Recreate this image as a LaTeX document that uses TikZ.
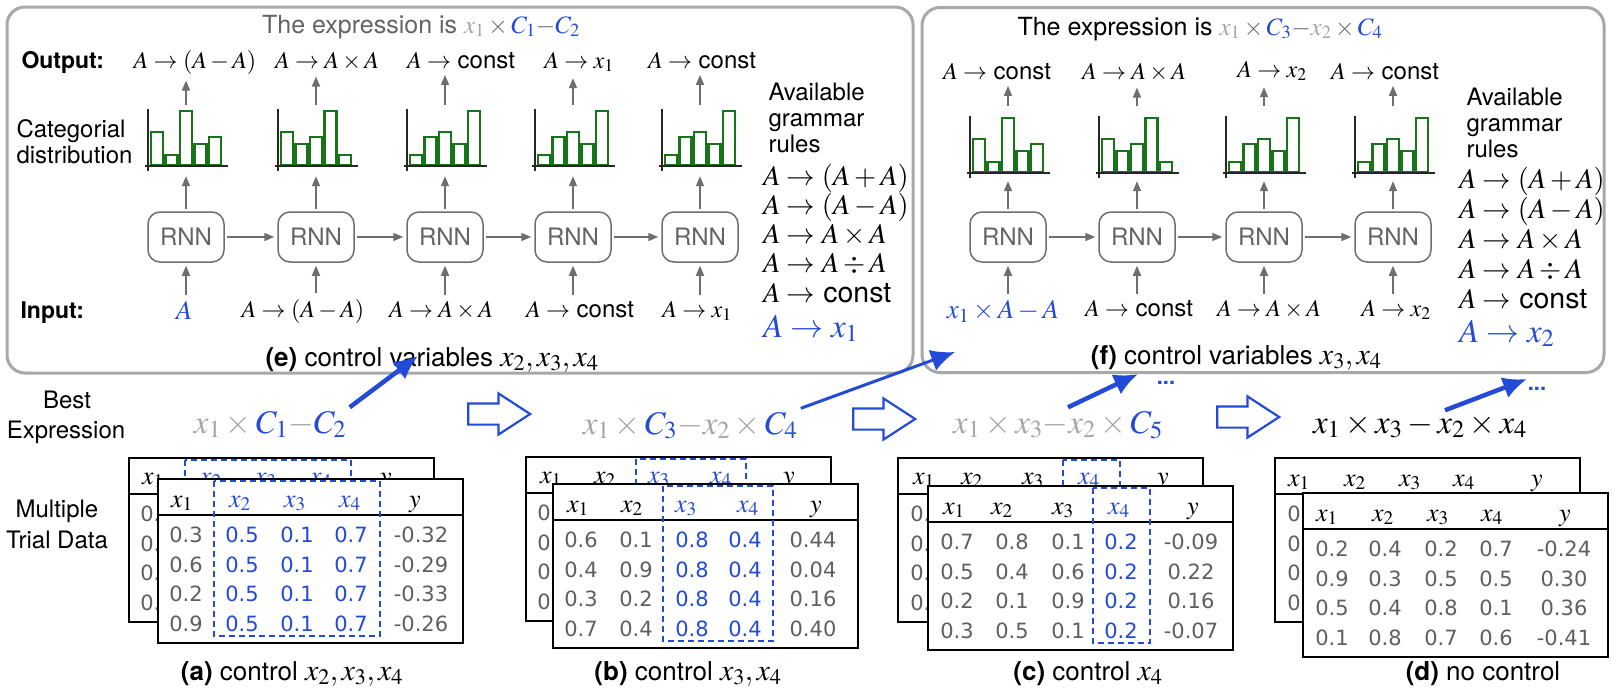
\documentclass[tikz,border=0pt]{standalone}
\usepackage{mathptmx}
\usepackage[no-math]{fontspec}
\setmainfont{TeX Gyre Heros}
\newfontfamily\numfont{DejaVu Sans}
\usetikzlibrary{arrows.meta,shapes.arrows}
\definecolor{cblue}{RGB}{35,75,215}
\definecolor{panelgray}{RGB}{168,168,168}
\definecolor{boxgray}{RGB}{110,110,110}
\definecolor{txtgray}{RGB}{100,100,100}
\definecolor{numgray}{RGB}{95,95,95}
\definecolor{exgray}{RGB}{165,165,165}
\definecolor{bargreen}{RGB}{25,115,25}
\begin{document}
\begin{tikzpicture}[x=1pt,y=-1pt,
    panel/.style={draw=panelgray,line width=3pt,rounded corners=18pt},
    title/.style={anchor=base,font=\fontsize{25}{30}\selectfont},
    lbl/.style={anchor=base,font=\fontsize{24}{28}\selectfont},
    side/.style={anchor=base west,font=\fontsize{24}{28}\selectfont},
    bside/.style={anchor=base west,font=\fontsize{23}{28}\selectfont\bfseries},
    gram/.style={anchor=base west,inner sep=0pt,font=\fontsize{28.5}{33}\selectfont},
    rnn/.style={draw=boxgray,line width=1.5pt,rounded corners=12pt,minimum width=76pt,minimum height=50pt,text=txtgray,font=\fontsize{24}{28}\selectfont},
    garrow/.style={draw=boxgray,line width=1.6pt,-{Triangle[length=10pt,width=8pt]},shorten >=3pt,shorten <=2pt},
    hist/.style={minimum width=82pt,inner sep=0pt},
    bar/.style={draw=bargreen,line width=2.2pt,fill=white},
    axis/.style={draw=black!85,line width=1.4pt},
    tab/.style={draw,line width=1.8pt,fill=white,anchor=north west,minimum width=305pt,minimum height=164pt,inner sep=0pt},
    hrule/.style={line width=2pt},
    hd/.style={anchor=base,font=\fontsize{26}{30}\selectfont},
    num/.style={anchor=base,text=numgray,font=\fontsize{21}{25}\numfont},
    dbox/.style={draw=cblue,line width=2.5pt,dash pattern=on 6pt off 4pt},
    expr/.style={anchor=base,text=exgray,font=\fontsize{33}{38}\selectfont},
    capt/.style={anchor=base,font=\fontsize{26}{30}\selectfont},
    hollow/.style={single arrow,draw=cblue,line width=2.2pt,fill=white,minimum height=62pt,single arrow head extend=10pt,single arrow tip angle=66,inner sep=0pt},
    sketch/.style={draw=cblue,line width=4.5pt,-{Latex[length=24pt,width=22pt]}},
    dots/.style={text=cblue,font=\fontsize{22}{26}\selectfont\bfseries}
  ]
  \fill[white] (0,0) rectangle (1612,691);
  \useasboundingbox (0,0) rectangle (1612,691);

  % panel (e)
  \node at (460,190) [panel,minimum width=906pt,minimum height=366pt] (pe) {};
  \node at (421,33) [title] (te) {{\color{txtgray}The expression is} ${\color{exgray}x_1}\mathbin{\color{txtgray}\times}{\color{cblue}C_1}{\color{txtgray}-}{\color{cblue}C_2}$};
  \node at (18,68) [bside] (lo) {Output:};
  \node at (13,137) [side] (lc1) {Categorial};
  \node at (13,163) [side] (lc2) {distribution};
  \node at (17,318) [bside] (li) {Input:};

  \node at (195,68) [lbl] (o1) {$A \rightarrow (A-A)$};
  \node at (327,68) [lbl] (o2) {$A \rightarrow A\times A$};
  \node at (461,68) [lbl] (o3) {$A \rightarrow$ const};
  \node at (579,68) [lbl] (o4) {$A \rightarrow x_1$};
  \node at (702,68) [lbl] (o5) {$A \rightarrow$ const};

  \node at (186,140) [hist,minimum height=66pt] (h1) {};
  \node at (316,140) [hist,minimum height=66pt] (h2) {};
  \node at (445,140) [hist,minimum height=66pt] (h3) {};
  \node at (573,140) [hist,minimum height=66pt] (h4) {};
  \node at (700,140) [hist,minimum height=66pt] (h5) {};

  \node at (700,237) [rnn] (r5) {RNN};
  \node at (573,237) [rnn] (r4) {RNN}
    edge[garrow] (r5);
  \node at (445,237) [rnn] (r3) {RNN}
    edge[garrow] (r4);
  \node at (316,237) [rnn] (r2) {RNN}
    edge[garrow] (r3);
  \node at (186,237) [rnn] (r1) {RNN}
    edge[garrow] (r2);

  \node at (184,319) [lbl,text=cblue,font=\fontsize{27}{30}\selectfont] (i1) {$A$};
  \node at (303,317) [lbl] (i2) {$A \rightarrow (A-A)$};
  \node at (441,317) [lbl] (i3) {$A \rightarrow A\times A$};
  \node at (580,317) [lbl] (i4) {$A \rightarrow$ const};
  \node at (697,317) [lbl] (i5) {$A \rightarrow x_1$};

  \draw[garrow] (r1 |- i1.north) -- (r1);
  \draw[garrow] (r2 |- i2.north) -- (r2);
  \draw[garrow] (r3 |- i3.north) -- (r3);
  \draw[garrow] (r4 |- i4.north) -- (r4);
  \draw[garrow] (r5 |- i5.north) -- (r5);
  \draw[garrow] (r1) -- (h1);
  \draw[garrow] (r2) -- (h2);
  \draw[garrow] (r3) -- (h3);
  \draw[garrow] (r4) -- (h4);
  \draw[garrow] (r5) -- (h5);
  \draw[garrow] (h1) -- (h1 |- o1.south);
  \draw[garrow] (h2) -- (h2 |- o2.south);
  \draw[garrow] (h3) -- (h3 |- o3.south);
  \draw[garrow] (h4) -- (h4 |- o4.south);
  \draw[garrow] (h5) -- (h5 |- o5.south);

  \node at (765,100) [side] (av1) {Available};
  \node at (765,126) [side] (av2) {grammar};
  \node at (765,152) [side] (av3) {rules};
  \node at (763,185) [gram] (re1) {$A \rightarrow (A+A)$};
  \node at (763,214) [gram] (re2) {$A \rightarrow (A-A)$};
  \node at (763,243) [gram] (re3) {$A \rightarrow A\times A$};
  \node at (763,272) [gram] (re4) {$A \rightarrow A\div A$};
  \node at (763,302) [gram] (re5) {$A \rightarrow$ const};
  \node at (763,337) [gram,text=cblue,font=\fontsize{33}{38}\selectfont] (re6) {$A \rightarrow x_1$};
  \node at (262,366) [capt,anchor=base west] (ce) {\textbf{(e)} control variables {\fontsize{30}{34}\selectfont$x_2, x_3, x_4$}};

  % panel (f)
  \node at (1263,190) [panel,minimum width=682pt,minimum height=365pt] (pf) {};
  \node at (1200,35) [title] (tf) {The expression is ${\color{exgray}x_1}\mathbin{\color{txtgray}\times}{\color{cblue}C_3}{\color{txtgray}-}{\color{exgray}x_2}\mathbin{\color{txtgray}\times}{\color{cblue}C_4}$};

  \node at (997,79) [lbl] (p1) {$A \rightarrow$ const};
  \node at (1134,79) [lbl] (p2) {$A \rightarrow A\times A$};
  \node at (1272,77) [lbl] (p3) {$A \rightarrow x_2$};
  \node at (1385,79) [lbl] (p4) {$A \rightarrow$ const};

  \node at (1008,143) [hist,minimum height=70pt] (g1) {};
  \node at (1137,143) [hist,minimum height=70pt] (g2) {};
  \node at (1264,143) [hist,minimum height=70pt] (g3) {};
  \node at (1393,143) [hist,minimum height=70pt] (g4) {};

  \node at (1393,237) [rnn] (s4) {RNN};
  \node at (1264,237) [rnn] (s3) {RNN}
    edge[garrow] (s4);
  \node at (1137,237) [rnn] (s2) {RNN}
    edge[garrow] (s3);
  \node at (1008,237) [rnn] (s1) {RNN}
    edge[garrow] (s2);

  \node at (1003,318) [lbl,text=cblue,font=\fontsize{27}{30}\selectfont] (j1) {$x_1\times A-A$};
  \node at (1139,316) [lbl] (j2) {$A \rightarrow$ const};
  \node at (1269,316) [lbl] (j3) {$A \rightarrow A\times A$};
  \node at (1396,316) [lbl] (j4) {$A \rightarrow x_2$};

  \draw[garrow] (s1 |- j1.north) -- (s1);
  \draw[garrow] (s2 |- j2.north) -- (s2);
  \draw[garrow] (s3 |- j3.north) -- (s3);
  \draw[garrow] (s4 |- j4.north) -- (s4);
  \draw[garrow] (s1) -- (g1);
  \draw[garrow] (s2) -- (g2);
  \draw[garrow] (s3) -- (g3);
  \draw[garrow] (s4) -- (g4);
  \draw[garrow] (g1) -- (g1 |- p1.south);
  \draw[garrow] (g2) -- (g2 |- p2.south);
  \draw[garrow] (g3) -- (g3 |- p3.south);
  \draw[garrow] (g4) -- (g4 |- p4.south);

  \node at (1463,105) [side] (bf1) {Available};
  \node at (1463,131) [side] (bf2) {grammar};
  \node at (1463,157) [side] (bf3) {rules};
  \node at (1459,188) [gram] (rf1) {$A \rightarrow (A+A)$};
  \node at (1459,218) [gram] (rf2) {$A \rightarrow (A-A)$};
  \node at (1459,248) [gram] (rf3) {$A \rightarrow A\times A$};
  \node at (1459,278) [gram] (rf4) {$A \rightarrow A\div A$};
  \node at (1459,308) [gram] (rf5) {$A \rightarrow$ const};
  \node at (1459,342) [gram,text=cblue,font=\fontsize{33}{38}\selectfont] (rf6) {$A \rightarrow x_2$};
  \node at (1385,364) [capt,anchor=base east] (cf) {\textbf{(f)} control variables {\fontsize{30}{34}\selectfont$x_3, x_4$}};

  % histograms
  \foreach \x/\y/\ha/\hb/\hc/\hd/\he in {148/165/33/10/54/21/28, 278/165/33/21/28/54/10,
      407/165/10/28/33/21/54, 535/165/10/28/33/21/54, 662/165/10/28/33/21/54,
      970/172/33/10/54/21/28, 1099/172/33/21/28/54/10, 1226/172/10/28/33/21/54, 1355/172/10/28/33/21/54}
  {
    \begin{scope}[shift={(\x,\y)}]
      \draw[bar] (3,0) rectangle (15,-\ha) (17.5,0) rectangle (29.5,-\hb) (32,0) rectangle (44,-\hc)
        (46.5,0) rectangle (58.5,-\hd) (61,0) rectangle (73,-\he);
      \draw[axis] (0,-56) -- (0,6) (-3,1) -- (80,1);
    \end{scope}
  }

  % left labels
  \node at (67,408) [side,anchor=base] (lb1) {Best};
  \node at (66,438) [side,anchor=base] (lb2) {Expression};
  \node at (57,517) [side,anchor=base] (lm1) {Multiple};
  \node at (57,548) [side,anchor=base] (lm2) {Trial Data};

  % table (a)
  \begin{scope}[shift={(128,457)}]
    \node at (0,0) [tab] (ta0) {};
    \draw[hrule] (0,37) -- (305,37);
    \node at (25,27) [hd] (ta0h1) {$x_1$};
    \node at (83,27) [hd,text=cblue] (ta0h2) {$x_2$};
    \node at (138,27) [hd,text=cblue] (ta0h3) {$x_3$};
    \node at (193,27) [hd,text=cblue] (ta0h4) {$x_4$};
    \node at (258,27) [hd] (ta0h5) {$y$};
    \foreach \r/\v in {64/0.4,94/0.7,123/0.1,153/0.5}
      \node at (29,\r) [num] (ta0v\r) {\v};
    \draw[dbox] (57,3) rectangle (223,158);
  \end{scope}
  \begin{scope}[shift={(157,478)}]
    \node at (0,0) [tab] (ta) {};
    \draw[hrule] (0,37) -- (305,37);
    \node at (25,29) [hd] (tah1) {$x_1$};
    \node at (83,29) [hd,text=cblue] (tah2) {$x_2$};
    \node at (138,29) [hd,text=cblue] (tah3) {$x_3$};
    \node at (193,29) [hd,text=cblue] (tah4) {$x_4$};
    \node at (258,29) [hd] (tah5) {$y$};
    \foreach \r/\va/\vb/\vc/\vd/\vy in {64/0.3/0.5/0.1/0.7/-0.32, 94/0.6/0.5/0.1/0.7/-0.29,
        123/0.2/0.5/0.1/0.7/-0.33, 153/0.9/0.5/0.1/0.7/-0.26}
    {
      \node at (29,\r) [num] (ta\r-1) {\va};
      \node at (85,\r) [num,text=cblue] (ta\r-2) {\vb};
      \node at (140,\r) [num,text=cblue] (ta\r-3) {\vc};
      \node at (194,\r) [num,text=cblue] (ta\r-4) {\vd};
      \node at (264,\r) [num] (ta\r-5) {\vy};
    }
    \draw[dbox] (57,3) rectangle (223,158);
  \end{scope}

  % table (b)
  \begin{scope}[shift={(525,456)}]
    \node at (0,0) [tab] (tb0) {};
    \draw[hrule] (0,37) -- (305,37);
    \node at (26,27) [hd] (tb0h1) {$x_1$};
    \node at (80,27) [hd] (tb0h2) {$x_2$};
    \node at (134,27) [hd,text=cblue] (tb0h3) {$x_3$};
    \node at (196,27) [hd,text=cblue] (tb0h4) {$x_4$};
    \node at (264,27) [hd] (tb0h5) {$y$};
    \foreach \r/\v in {64/0.2,94/0.5,123/0.8,153/0.1}
      \node at (29,\r) [num] (tb0v\r) {\v};
    \draw[dbox] (111,3) rectangle (221,158);
  \end{scope}
  \begin{scope}[shift={(552,483)}]
    \node at (0,0) [tab] (tb) {};
    \draw[hrule] (0,37) -- (305,37);
    \node at (26,29) [hd] (tbh1) {$x_1$};
    \node at (80,29) [hd] (tbh2) {$x_2$};
    \node at (134,29) [hd,text=cblue] (tbh3) {$x_3$};
    \node at (196,29) [hd,text=cblue] (tbh4) {$x_4$};
    \node at (264,29) [hd] (tbh5) {$y$};
    \foreach \r/\va/\vb/\vc/\vd/\vy in {64/0.6/0.1/0.8/0.4/0.44, 94/0.4/0.9/0.8/0.4/0.04,
        123/0.3/0.2/0.8/0.4/0.16, 153/0.7/0.4/0.8/0.4/0.40}
    {
      \node at (29,\r) [num] (tb\r-1) {\va};
      \node at (84,\r) [num] (tb\r-2) {\vb};
      \node at (140,\r) [num,text=cblue] (tb\r-3) {\vc};
      \node at (193,\r) [num,text=cblue] (tb\r-4) {\vd};
      \node at (261,\r) [num] (tb\r-5) {\vy};
    }
    \draw[dbox] (111,3) rectangle (221,158);
  \end{scope}

  % table (c)
  \begin{scope}[shift={(897,457)}]
    \node at (0,0) [tab] (tc0) {};
    \draw[hrule] (0,37) -- (305,37);
    \node at (27,27) [hd] (tc0h1) {$x_1$};
    \node at (75,27) [hd] (tc0h2) {$x_2$};
    \node at (136,27) [hd] (tc0h3) {$x_3$};
    \node at (192,27) [hd,text=cblue] (tc0h4) {$x_4$};
    \node at (266,27) [hd] (tc0h5) {$y$};
    \foreach \r/\v in {64/0.6,94/0.3,123/0.9,153/0.4}
      \node at (30,\r) [num] (tc0v\r) {\v};
    \draw[dbox] (166,3) rectangle (223,158);
  \end{scope}
  \begin{scope}[shift={(927,485)}]
    \node at (0,0) [tab] (tc) {};
    \draw[hrule] (0,37) -- (305,37);
    \node at (27,29) [hd] (tch1) {$x_1$};
    \node at (75,29) [hd] (tch2) {$x_2$};
    \node at (136,29) [hd] (tch3) {$x_3$};
    \node at (192,29) [hd,text=cblue] (tch4) {$x_4$};
    \node at (266,29) [hd] (tch5) {$y$};
    \foreach \r/\va/\vb/\vc/\vd/\vy in {64/0.7/0.8/0.1/0.2/-0.09, 94/0.5/0.4/0.6/0.2/0.22,
        123/0.2/0.1/0.9/0.2/0.16, 153/0.3/0.5/0.1/0.2/-0.07}
    {
      \node at (30,\r) [num] (tc\r-1) {\va};
      \node at (85,\r) [num] (tc\r-2) {\vb};
      \node at (141,\r) [num] (tc\r-3) {\vc};
      \node at (194,\r) [num,text=cblue] (tc\r-4) {\vd};
      \node at (264,\r) [num] (tc\r-5) {\vy};
    }
    \draw[dbox] (166,3) rectangle (223,158);
  \end{scope}

  % table (d)
  \begin{scope}[shift={(1274,457)}]
    \node at (0,0) [tab] (td0) {};
    \draw[hrule] (0,37) -- (305,37);
    \node at (25,29) [hd] (td0h1) {$x_1$};
    \node at (81,29) [hd] (td0h2) {$x_2$};
    \node at (136,29) [hd] (td0h3) {$x_3$};
    \node at (190,29) [hd] (td0h4) {$x_4$};
    \node at (263,29) [hd] (td0h5) {$y$};
    \foreach \r/\v in {64/0.3,94/0.6,123/0.4,153/0.8}
      \node at (30,\r) [num] (td0v\r) {\v};
  \end{scope}
  \begin{scope}[shift={(1302,492)}]
    \node at (0,0) [tab] (td) {};
    \draw[hrule] (0,37) -- (305,37);
    \node at (25,29) [hd] (tdh1) {$x_1$};
    \node at (81,29) [hd] (tdh2) {$x_2$};
    \node at (136,29) [hd] (tdh3) {$x_3$};
    \node at (190,29) [hd] (tdh4) {$x_4$};
    \node at (263,29) [hd] (tdh5) {$y$};
    \foreach \r/\va/\vb/\vc/\vd/\vy in {64/0.2/0.4/0.2/0.7/-0.24, 94/0.9/0.3/0.5/0.5/0.30,
        123/0.5/0.4/0.8/0.1/0.36, 153/0.1/0.8/0.7/0.6/-0.41}
    {
      \node at (30,\r) [num] (td\r-1) {\va};
      \node at (83,\r) [num] (td\r-2) {\vb};
      \node at (139,\r) [num] (td\r-3) {\vc};
      \node at (194,\r) [num] (td\r-4) {\vd};
      \node at (262,\r) [num] (td\r-5) {\vy};
    }
  \end{scope}

  % captions of the tables
  \node at (292,680) [capt] (ca) {\textbf{(a)} control {\fontsize{30}{34}\selectfont$x_2, x_3, x_4$}};
  \node at (688,680) [capt] (cb) {\textbf{(b)} control {\fontsize{30}{34}\selectfont$x_3, x_4$}};
  \node at (1088,680) [capt] (cc) {\textbf{(c)} control {\fontsize{30}{34}\selectfont$x_4$}};
  \node at (1483,680) [capt] (cd) {\textbf{(d)} no control};

  % best expressions
  \node at (270,433) [expr] (ea) {$x_1\times{\color{cblue}C_1}{-}{\color{cblue}C_2}$};
  \node at (690,434) [expr] (eb) {$x_1\times{\color{cblue}C_3}{-}x_2\times{\color{cblue}C_4}$};
  \node at (1058,433) [expr] (ec) {$x_1\times x_3{-}x_2\times{\color{cblue}C_5}$};
  \node at (1420,433) [expr,text=black] (ed) {$x_1\times x_3-x_2\times x_4$};

  \node at (491,414) [hollow] (ar1) {\rule{0pt}{19pt}};
  \node at (876,419) [hollow] (ar2) {\rule{0pt}{19pt}};
  \node at (1240,417) [hollow] (ar3) {\rule{0pt}{19pt}};

  \coordinate (pe-in) at (418,356);
  \coordinate (pf-in) at (955,352);
  \coordinate (c-out) at (1138,374);
  \coordinate (d-out) at (1527,379);
  \draw[sketch] (ea.north east) -- (pe-in);
  \draw[sketch,line width=3pt] (eb.north east) -- (pf-in);
  \draw[sketch] ([xshift=10pt]ec.north) -- (c-out);
  \draw[sketch] ([xshift=25pt]ed.north) -- (d-out);
  \node at (1166,383) [dots] (dc) {...};
  \node at (1537,389) [dots] (dd) {...};
\end{tikzpicture}
\end{document}
